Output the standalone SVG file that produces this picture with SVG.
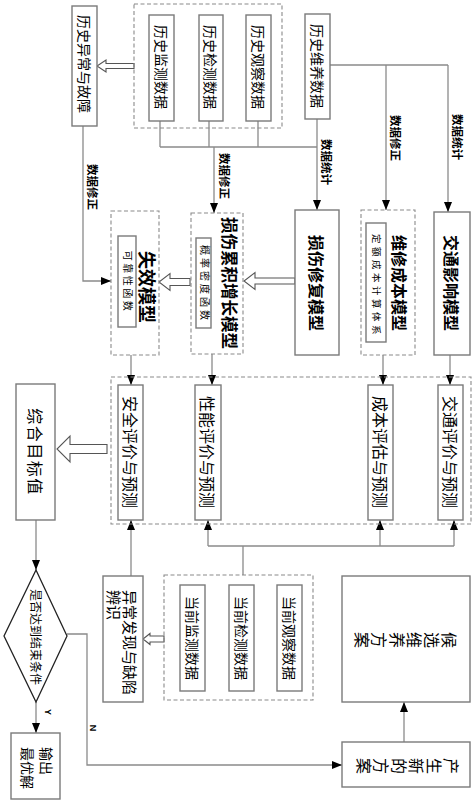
<svg xmlns="http://www.w3.org/2000/svg" width="474" height="804" viewBox="0 0 474 804">
<style>
.box{fill:#fff;stroke:#7a7a7a;stroke-width:1.4}
.dash{fill:none;stroke:#8a8a8a;stroke-width:1.1;stroke-dasharray:4 2.5}
.ln{fill:none;stroke:#8a8a8a;stroke-width:1.3}
.ha{fill:#fff;stroke:#555;stroke-width:1.1}
text{font-family:"Noto Sans CJK SC","Noto Sans",sans-serif;fill:#000}
.t14{font-size:14px}
.t16{font-size:16px}
.tb{font-size:16px;font-weight:bold}
.sm{font-size:10px;letter-spacing:2.5px}
.lb{font-size:11.5px;font-weight:bold}
.yn{font-size:9px;font-weight:bold;font-family:"Liberation Sans",sans-serif}
</style>
<defs>
<marker id="ar" markerUnits="userSpaceOnUse" markerWidth="10" markerHeight="8" refX="10" refY="4" orient="auto">
<path d="M0,0 L10,4 L0,8 z" fill="#000"/>
</marker>
</defs>

<g id="connectors">
<path class="ln" d="M160,121 V147 M209,121 V147 M258,121 V147 M160,147 H317"/>
<path class="ln" d="M214,147 V213" marker-end="url(#ar)"/>
<path class="ln" d="M317,119 V210" marker-end="url(#ar)"/>
<path class="ln" d="M330,65 H448"/>
<path class="ln" d="M386,65 V210" marker-end="url(#ar)"/>
<path class="ln" d="M448,65 V212" marker-end="url(#ar)"/>
<path class="ln" d="M83,126 V281 H111" marker-end="url(#ar)"/>
<path class="ln" d="M131,355 V385" marker-end="url(#ar)"/>
<path class="ln" d="M212,354 V385" marker-end="url(#ar)"/>
<path class="ln" d="M383,355 V385" marker-end="url(#ar)"/>
<path class="ln" d="M450,355 V385" marker-end="url(#ar)"/>
<path class="ln" d="M131,576 V520" marker-end="url(#ar)"/>
<path class="ln" d="M243,575 V546 M208,546 H454"/>
<path class="ln" d="M208,546 V520" marker-end="url(#ar)"/>
<path class="ln" d="M380,546 V520" marker-end="url(#ar)"/>
<path class="ln" d="M454,546 V520" marker-end="url(#ar)"/>
<path class="ln" d="M36,520 V570" marker-end="url(#ar)"/>
<path class="ln" d="M36,702 V733" marker-end="url(#ar)"/>
<path class="ln" d="M67,634 H87 V765 H342" marker-end="url(#ar)"/>
<path class="ln" d="M404,742 V702" marker-end="url(#ar)"/>
<polygon class="ha" points="134,63.5 106,63.5 106,60 97,66 106,72 106,68.5 134,68.5"/>
<polygon class="ha" points="190,278.5 170,278.5 170,273.5 159,282 170,290.5 170,285.5 190,285.5"/>
<polygon class="ha" points="295,278 255,278 255,272.5 244,281 255,289.5 255,284 295,284"/>
<polygon class="ha" points="107,444.5 70,444.5 70,436 57,449 70,462 70,453.5 107,453.5"/>
<polygon class="ha" points="164,636 150,636 150,633.5 143,639 150,644.5 150,642 164,642"/>
<text class="lb" transform="translate(93,187) rotate(90)" text-anchor="middle" dominant-baseline="central">数据修正</text>
<text class="lb" transform="translate(225,176) rotate(90)" text-anchor="middle" dominant-baseline="central">数据修正</text>
<text class="lb" transform="translate(327,162) rotate(90)" text-anchor="middle" dominant-baseline="central">数据统计</text>
<text class="lb" transform="translate(396,138) rotate(90)" text-anchor="middle" dominant-baseline="central">数据修正</text>
<text class="lb" transform="translate(458,137) rotate(90)" text-anchor="middle" dominant-baseline="central">数据统计</text>
<text class="yn" transform="translate(48,712) rotate(90)" text-anchor="middle" dominant-baseline="central">Y</text>
<text class="yn" transform="translate(93,728) rotate(90)" text-anchor="middle" dominant-baseline="central">N</text>
</g>

<g id="hist-anomaly">
<rect class="box" x="72" y="6" width="25" height="120"/>
<text class="t14" transform="translate(84.5,64) rotate(90)" text-anchor="middle" dominant-baseline="central">历史异常与故障</text>
</g>
<g id="hist-data-group">
<rect class="dash" x="134" y="4" width="148" height="124"/>
</g>
<g id="hist-monitor">
<rect class="box" x="149" y="15" width="25" height="106"/>
<text class="t14" transform="translate(161.5,67) rotate(90)" text-anchor="middle" dominant-baseline="central">历史监测数据</text>
</g>
<g id="hist-inspect">
<rect class="box" x="199" y="15" width="24" height="106"/>
<text class="t14" transform="translate(211,67) rotate(90)" text-anchor="middle" dominant-baseline="central">历史检测数据</text>
</g>
<g id="hist-observe">
<rect class="box" x="246" y="15" width="25" height="106"/>
<text class="t14" transform="translate(258.5,67) rotate(90)" text-anchor="middle" dominant-baseline="central">历史观察数据</text>
</g>
<g id="hist-maint">
<rect class="box" x="305" y="14" width="25" height="105"/>
<text class="t14" transform="translate(317.5,66) rotate(90)" text-anchor="middle" dominant-baseline="central">历史维养数据</text>
</g>

<g id="failure-model">
<rect class="dash" x="111" y="211" width="48" height="144"/>
<rect class="box" x="118" y="236" width="18" height="91"/>
<text class="sm" transform="translate(128,282) rotate(90)" text-anchor="middle" dominant-baseline="central">可靠性函数</text>
<text class="tb" style="font-size:18px" transform="translate(148,287) rotate(90)" text-anchor="middle" dominant-baseline="central">失效模型</text>
</g>
<g id="damage-growth-model">
<rect class="dash" x="191" y="213" width="52" height="141"/>
<rect class="box" x="196" y="238" width="15" height="90"/>
<text class="sm" style="letter-spacing:3px" transform="translate(205,284) rotate(90)" text-anchor="middle" dominant-baseline="central">概率密度函数</text>
<text class="tb" style="font-size:16.5px" transform="translate(230,283) rotate(90)" text-anchor="middle" dominant-baseline="central">损伤累积增长模型</text>
</g>
<g id="repair-model">
<rect class="box" x="295" y="210" width="44" height="145"/>
<text class="tb" transform="translate(317,283) rotate(90)" text-anchor="middle" dominant-baseline="central">损伤修复模型</text>
</g>
<g id="cost-model">
<rect class="dash" x="361" y="210" width="54" height="145"/>
<rect class="box" x="366" y="223" width="20" height="119"/>
<text class="sm" style="font-size:9.5px;letter-spacing:3.5px" transform="translate(377,286) rotate(90)" text-anchor="middle" dominant-baseline="central">定额成本计算体系</text>
<text class="tb" transform="translate(400,283) rotate(90)" text-anchor="middle" dominant-baseline="central">维修成本模型</text>
</g>
<g id="traffic-model">
<rect class="box" x="434" y="212" width="36" height="143"/>
<text class="tb" transform="translate(452,283) rotate(90)" text-anchor="middle" dominant-baseline="central">交通影响模型</text>
</g>

<g id="eval-group">
<rect class="dash" x="111" y="377" width="360" height="147"/>
</g>
<g id="safety-eval">
<rect class="box" x="118" y="385" width="25" height="135"/>
<text class="t16" transform="translate(130.5,452) rotate(90)" text-anchor="middle" dominant-baseline="central">安全评价与预测</text>
</g>
<g id="perf-eval">
<rect class="box" x="195" y="385" width="26" height="135"/>
<text class="t16" transform="translate(208,452) rotate(90)" text-anchor="middle" dominant-baseline="central">性能评价与预测</text>
</g>
<g id="cost-eval">
<rect class="box" x="368" y="385" width="25" height="135"/>
<text class="t16" transform="translate(380.5,452) rotate(90)" text-anchor="middle" dominant-baseline="central">成本评估与预测</text>
</g>
<g id="traffic-eval">
<rect class="box" x="438" y="385" width="25" height="135"/>
<text class="t16" transform="translate(450.5,452) rotate(90)" text-anchor="middle" dominant-baseline="central">交通评价与预测</text>
</g>
<g id="objective">
<rect class="box" x="16" y="384" width="39" height="136"/>
<text class="t16" style="letter-spacing:1.5px" transform="translate(35.5,452) rotate(90)" text-anchor="middle" dominant-baseline="central">综合目标值</text>
</g>

<g id="anomaly-detect">
<rect class="box" x="103" y="576" width="40" height="126"/>
<text style="font-size:15px" transform="translate(130,590) rotate(90)" dominant-baseline="central">异常发现与缺陷</text>
<text style="font-size:15px" transform="translate(114,590) rotate(90)" dominant-baseline="central">辨识</text>
</g>
<g id="current-data-group">
<rect class="dash" x="164" y="575" width="149" height="125"/>
</g>
<g id="cur-monitor">
<rect class="box" x="180" y="585" width="25" height="106"/>
<text class="t14" transform="translate(192.5,638) rotate(90)" text-anchor="middle" dominant-baseline="central">当前监测数据</text>
</g>
<g id="cur-inspect">
<rect class="box" x="229" y="585" width="25" height="106"/>
<text class="t14" transform="translate(241.5,638) rotate(90)" text-anchor="middle" dominant-baseline="central">当前检测数据</text>
</g>
<g id="cur-observe">
<rect class="box" x="277" y="585" width="25" height="106"/>
<text class="t14" transform="translate(289.5,638) rotate(90)" text-anchor="middle" dominant-baseline="central">当前观察数据</text>
</g>
<g id="candidate">
<rect class="box" x="342" y="576" width="128" height="126"/>
<text class="t16" style="writing-mode:vertical-rl;letter-spacing:1.5px" transform="translate(405,640) rotate(90)" text-anchor="middle">候选维养方案</text>
</g>
<g id="new-plan">
<rect class="box" x="342" y="742" width="128" height="45"/>
<text class="t16" style="writing-mode:vertical-rl;letter-spacing:1.5px" transform="translate(407,766) rotate(90)" text-anchor="middle">产生新的方案</text>
</g>
<g id="decision">
<polygon class="box" points="36,570 67,636 36,702 4,636" style="stroke:#222;stroke-width:1.3"/>
<text style="font-size:12px" transform="translate(36,637) rotate(90)" text-anchor="middle" dominant-baseline="central">是否达到结束条件</text>
</g>
<g id="output">
<rect class="box" x="11" y="733" width="49" height="66"/>
<text style="font-size:14px" transform="translate(47,747) rotate(90)" dominant-baseline="central">输出</text>
<text style="font-size:14px" transform="translate(28,747) rotate(90)" dominant-baseline="central">最优解</text>
</g>
</svg>
